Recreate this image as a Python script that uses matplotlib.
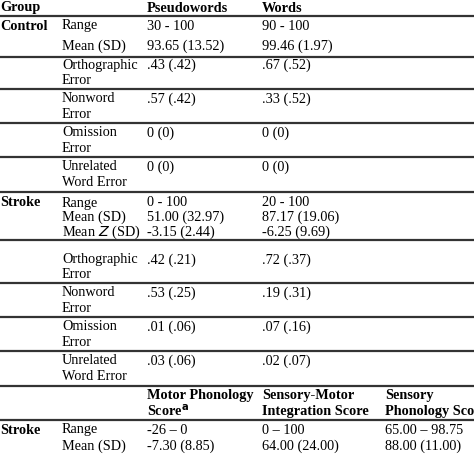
import matplotlib.pyplot as plt

W, H = 474, 457
fig = plt.figure(figsize=(W / 100, H / 100), dpi=100)
ax = fig.add_axes([0, 0, 1, 1])
ax.set_xlim(0, W)
ax.set_ylim(H, 0)
ax.axis('off')

FONT = 'Liberation Serif'
FS = 10.3
LINE = 15  # pixels between wrapped lines

col_x = [0, 62, 147, 262, 385]

headers = ['Group', '', 'Pseudowords', 'Words']
control_rows = [
    ('Control', 'Range', '30 - 100', '90 - 100'),
    ('', 'Mean (SD)', '93.65 (13.52)', '99.46 (1.97)'),
    ('', 'Orthographic\nError', '.43 (.42)', '.67 (.52)'),
    ('', 'Nonword\nError', '.57 (.42)', '.33 (.52)'),
    ('', 'Omission\nError', '0 (0)', '0 (0)'),
    ('', 'Unrelated\nWord Error', '0 (0)', '0 (0)'),
]
stroke_rows = [
    ('Stroke', 'Range', '0 - 100', '20 - 100'),
    ('', 'Mean (SD)', '51.00 (32.97)', '87.17 (19.06)'),
    ('', 'Mean $Z$ (SD)', '-3.15 (2.44)', '-6.25 (9.69)'),
    ('', 'Orthographic\nError', '.42 (.21)', '.72 (.37)'),
    ('', 'Nonword\nError', '.53 (.25)', '.19 (.31)'),
    ('', 'Omission\nError', '.01 (.06)', '.07 (.16)'),
    ('', 'Unrelated\nWord Error', '.03 (.06)', '.02 (.07)'),
]
score_headers = ['', '', 'Motor Phonology\nScore$^{\\mathbf{a}}$',
                 'Sensory-Motor\nIntegration Score', 'Sensory\nPhonology Score']
score_rows = [
    ('Stroke', 'Range', '-26 – 0', '0 – 100', '65.00 – 98.75'),
    ('', 'Mean (SD)', '-7.30 (8.85)', '64.00 (24.00)', '88.00 (11.00)'),
]

# row centre positions (pixels, first line)
control_y = [26, 46, 65, 99, 133, 167]
stroke_y = [203, 217, 232, 260, 293, 327, 361]
score_y = [430, 446]
lines_y = [16, 57, 89, 123, 157, 192, 240, 283, 317, 351, 386, 420]


def put(x, y, s, bold=False):
    for k, part in enumerate(s.split('\n')):
        ax.text(x, y + k * LINE, part, fontsize=FS, family=FONT,
                va='center', ha='left',
                fontweight='bold' if bold else 'normal', color='black')


for x, h in zip(col_x, headers):
    put(x, 8, h, bold=True)
for y, row in zip(control_y + stroke_y, control_rows + stroke_rows):
    for i, (x, s) in enumerate(zip(col_x, row)):
        put(x, y, s, bold=(i == 0))
for x, h in zip(col_x, score_headers):
    put(x, 396, h, bold=True)
for y, row in zip(score_y, score_rows):
    for i, (x, s) in enumerate(zip(col_x, row)):
        put(x, y, s, bold=(i == 0))

for y in lines_y:
    ax.plot([0, W], [y, y], color='#333333', lw=1.6)

fig.savefig('out.png', dpi=100)
